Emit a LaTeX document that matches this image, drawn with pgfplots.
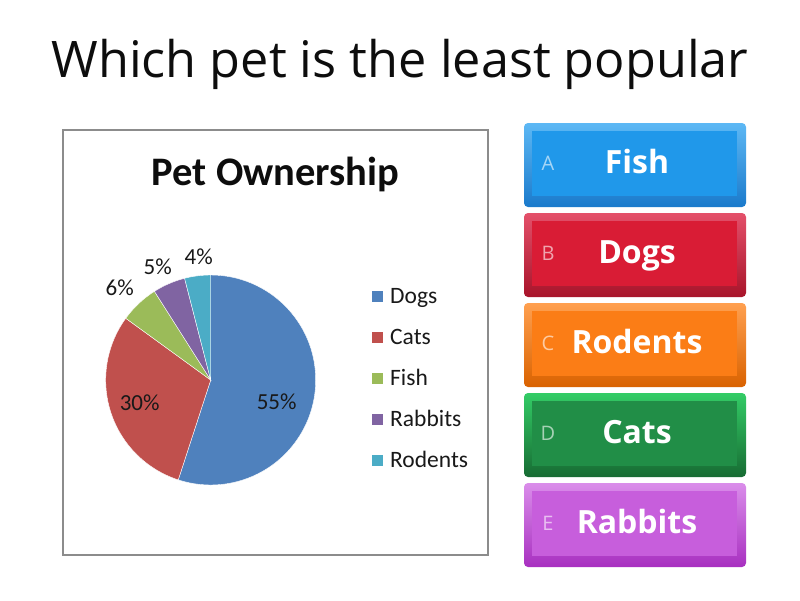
\documentclass[border=0pt]{standalone}
\usepackage{pgfplots}
\pgfplotsset{compat=1.18}
\usepackage{pgfplotstable}
\usepackage{fontspec}
\setmainfont{Open Sans}
\newfontfamily\carlito{Carlito}
\newfontfamily\opensans{Open Sans}
\definecolor{pie0}{HTML}{4F81BD}
\definecolor{pie1}{HTML}{C0504D}
\definecolor{pie2}{HTML}{9BBB59}
\definecolor{pie3}{HTML}{8064A2}
\definecolor{pie4}{HTML}{4BACC6}
% button colours: light, face, dark
\definecolor{bl0}{HTML}{5DB8F5}\definecolor{bf0}{HTML}{2098EA}\definecolor{bd0}{HTML}{1A7ACB}
\definecolor{bl1}{HTML}{E4506A}\definecolor{bf1}{HTML}{D91C35}\definecolor{bd1}{HTML}{A8142A}
\definecolor{bl2}{HTML}{FFA050}\definecolor{bf2}{HTML}{FB7D16}\definecolor{bd2}{HTML}{D96200}
\definecolor{bl3}{HTML}{33CC66}\definecolor{bf3}{HTML}{218E47}\definecolor{bd3}{HTML}{176B33}
\definecolor{bl4}{HTML}{DA8DEA}\definecolor{bf4}{HTML}{C75EDC}\definecolor{bd4}{HTML}{A830C0}

\pgfplotstableread{
name pct lx ly
Dogs 55 66 -22
Cats 30 -71 -23
Fish 6 -91 92
Rabbits 5 -53 113
Rodents 4 -12 123
}\pets

\begin{document}
\begin{tikzpicture}[x=1pt,y=-1pt]
\fill[white] (0,0) rectangle (800,600);
\path[use as bounding box] (0,0) rectangle (800,600);
% question title
\node[anchor=base, font=\opensans\fontsize{50.4}{60}\selectfont, text=black!95, inner sep=0pt] at (400,77) {Which pet is the least popular};
% chart frame
\draw[draw=black!45, line width=1.3pt] (63,130) rectangle (488,555);
\node[anchor=base, font=\carlito\bfseries\fontsize{40.5}{46}\selectfont, text=black!95, inner sep=0pt] at (275.5,185.5) {Pet Ownership};
% precompute slice angles from the table
\def\cum{0}
\pgfplotsforeachungrouped \i in {0,...,4}{%
  \pgfplotstablegetelem{\i}{pct}\of\pets
  \edef\v{\pgfplotsretval}%
  \pgfmathsetmacro\sa{90-3.6*\cum}%
  \pgfmathsetmacro\cum{\cum+\v}%
  \pgfmathsetmacro\ea{90-3.6*\cum}%
  \expandafter\xdef\csname sa\i\endcsname{\sa}%
  \expandafter\xdef\csname ea\i\endcsname{\ea}%
  \expandafter\xdef\csname pc\i\endcsname{\v}%
  \pgfplotstablegetelem{\i}{lx}\of\pets
  \expandafter\xdef\csname lx\i\endcsname{\pgfplotsretval}%
  \pgfplotstablegetelem{\i}{ly}\of\pets
  \expandafter\xdef\csname ly\i\endcsname{\pgfplotsretval}%
  \pgfplotstablegetelem{\i}{name}\of\pets
  \expandafter\xdef\csname nm\i\endcsname{\pgfplotsretval}%
  \pgfmathsetmacro\ry{83.3-41*\i}%
  \expandafter\xdef\csname ry\i\endcsname{\ry}%
}
\begin{axis}[at={(210.7pt,-380pt)}, anchor=center, hide axis, scale only axis,
  x=1pt, y=1pt, xmin=-106, xmax=106, ymin=-106, ymax=106, clip=false]
\pgfplotsinvokeforeach{0,...,4}{
  \fill[pie#1, draw=white, line width=0.4pt] (axis cs:0,0) -- ++(\csname sa#1\endcsname:105pt)
     arc[start angle=\csname sa#1\endcsname, end angle=\csname ea#1\endcsname, radius=105pt] -- cycle;
}
\pgfplotsinvokeforeach{0,...,4}{
  \node[font=\carlito\fontsize{23}{27}\selectfont, text=black!90, inner sep=0pt]
     at (axis cs:\csname lx#1\endcsname,\csname ly#1\endcsname) {\csname pc#1\endcsname\%};
  \fill[pie#1] (axis cs:161,\csname ry#1\endcsname) ++(0pt,-5.5pt) rectangle ++(11.5pt,11pt);
  \node[anchor=base west, font=\carlito\fontsize{23.5}{27}\selectfont, text=black!90, inner sep=0pt, yshift=-6.9pt]
     at (axis cs:179.3,\csname ry#1\endcsname) {\csname nm#1\endcsname};
}
\end{axis}
% answer buttons
\foreach \k/\ltr/\lab in {0/A/Fish,1/B/Dogs,2/C/Rodents,3/D/Cats,4/E/Rabbits}{
  \pgfmathsetmacro\yt{123+90*\k}
  \pgfmathsetmacro\yb{\yt+84}
  \shade[rounded corners=4pt, top color=bl\k, bottom color=bd\k] (524,\yt) rectangle (746,\yb);
  \fill[bf\k] (532,\yt+8) rectangle (737,\yb-11);
  \node[anchor=base, font=\opensans\fontsize{20}{24}\selectfont, text=white, opacity=0.6, inner sep=0pt] at (548,\yt+47.5) {\ltr};
  \node[anchor=base, font=\opensans\bfseries\fontsize{32}{37}\selectfont, text=white, inner sep=0pt] at (637,\yt+50.5) {\lab};
}
\end{tikzpicture}
\end{document}
